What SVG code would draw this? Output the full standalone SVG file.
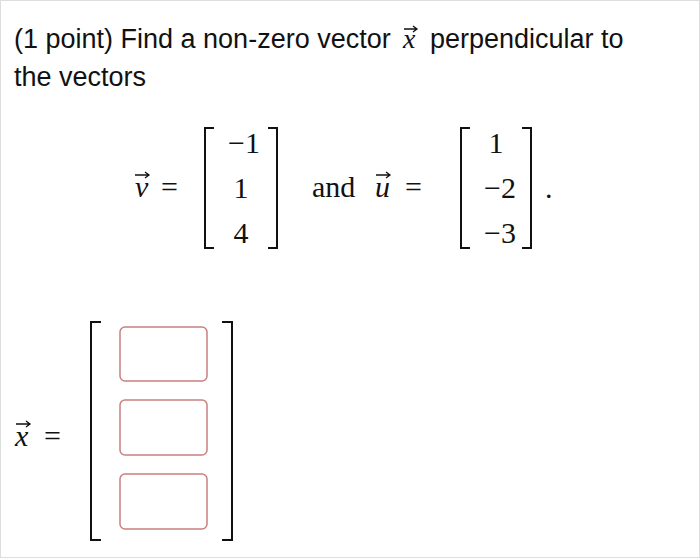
<svg xmlns="http://www.w3.org/2000/svg" width="700" height="558" viewBox="0 0 700 558">
<style>
.t{font-family:"Liberation Sans",Arial,sans-serif;font-size:27px;fill:#111}
.m{font-family:"Liberation Serif","Times New Roman",serif;font-size:30px;fill:#111}
.mi{font-family:"Liberation Serif","Times New Roman",serif;font-size:30px;font-style:italic;fill:#111}
.b{fill:none;stroke:#111;stroke-width:2}
.box{fill:#fff;stroke:#c98080;stroke-width:1.5}
.ar{fill:none;stroke:#111;stroke-width:1.3}
</style>
<rect width="700" height="558" fill="#fff"/>
<rect x="0.5" y="0.5" width="699" height="557" fill="none" stroke="#ddd"/>
<text class="t" x="14" y="48">(1 point) Find a non-zero vector</text>
<text class="mi" x="403" y="48" style="font-size:28px">x</text>
<path class="ar" d="M404 29 h13 M413 26 l4 3 l-4 3"/>
<text class="t" x="430" y="48">perpendicular to</text>
<text class="t" x="14" y="86">the vectors</text>
<text class="mi" x="135" y="197">v</text>
<path class="ar" d="M135 175 h14 M145 172 l4 3 l-4 3"/>
<text class="m" x="161" y="197">=</text>
<path class="b" d="M214 128 h-9 v120 h9 M268 128 h9 v120 h-9"/>
<text class="m" x="260" y="153" text-anchor="end">−1</text>
<text class="m" x="241" y="198" text-anchor="middle">1</text>
<text class="m" x="241" y="243" text-anchor="middle">4</text>
<text class="m" x="312" y="197">and</text>
<text class="mi" x="375" y="197">u</text>
<path class="ar" d="M376 175 h14 M386 172 l4 3 l-4 3"/>
<text class="m" x="405" y="197">=</text>
<path class="b" d="M470 128 h-9 v120 h9 M522 128 h9 v120 h-9"/>
<text class="m" x="496" y="153" text-anchor="middle">1</text>
<text class="m" x="516" y="198" text-anchor="end">−2</text>
<text class="m" x="516" y="243" text-anchor="end">−3</text>
<text class="m" x="545" y="198">.</text>
<text class="mi" x="15" y="446">x</text>
<path class="ar" d="M16 424 h14 M26 421 l4 3 l-4 3"/>
<text class="m" x="44" y="446">=</text>
<path class="b" d="M101 322 h-10 v218 h10 M222 322 h10 v218 h-10"/>
<rect class="box" x="120" y="327" width="87" height="54" rx="5"/>
<rect class="box" x="120" y="400" width="87" height="55" rx="5"/>
<rect class="box" x="120" y="474" width="87" height="55" rx="5"/>
</svg>
